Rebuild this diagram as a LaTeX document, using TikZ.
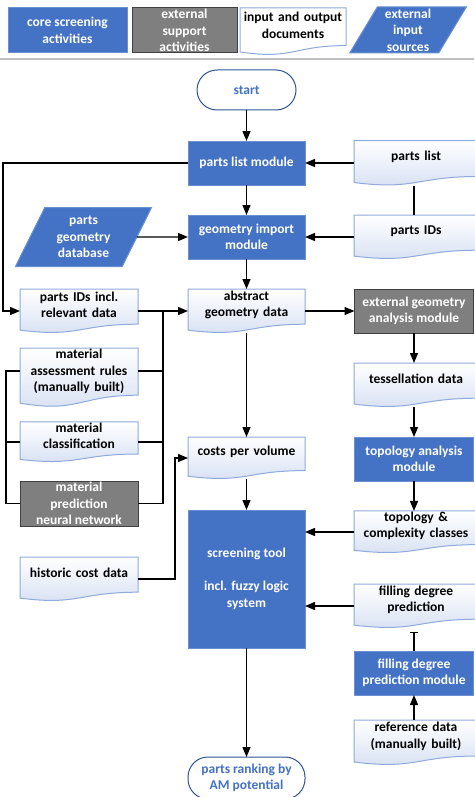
\documentclass[tikz,border=0pt]{standalone}
\usepackage{fontspec}
\setmainfont{Carlito}
\usetikzlibrary{arrows.meta,shapes.geometric,calc,backgrounds}

\definecolor{coreblue}{HTML}{4472C4}
\definecolor{coreline}{HTML}{6A8FD3}
\definecolor{extgray}{HTML}{7F7F7F}
\definecolor{extline}{HTML}{404040}
\definecolor{docline}{HTML}{8FAADC}
\definecolor{docfill}{HTML}{D5DFF2}
\definecolor{termline}{HTML}{2F5597}
\definecolor{sepgray}{HTML}{C0C0C0}

\newcommand\lbl{\fontsize{13.5}{16.5}\selectfont\bfseries}
% document outline with wavy bottom, drawn behind a named node
\newcommand\docshape[2][top color=white,bottom color=docfill]{%
  \draw[line width=1pt, draw=docline, #1]
    (#2.north west) -- (#2.north east)
    -- ($(#2.north east)!0.80!(#2.south east)$)
    .. controls ($(#2.north)!0.80!(#2.south)$) and ($(#2.north)!1.107!(#2.south)$)
    .. ($(#2.north west)!0.934!(#2.south west)$) -- cycle;}

\tikzset{
  box/.style={rectangle, align=center, inner sep=1pt, outer sep=0pt, font=\lbl, line width=1pt},
  core/.style={box, fill=coreblue, draw=coreline, text=white},
  ext/.style={box, fill=extgray, draw=extline, text=white},
  doc/.style={box, text width=#1, inner xsep=0pt, execute at end node={\par\vspace{12pt}\kern0pt}},
  term/.style={box, draw=termline, fill=white, text=coreblue, rounded corners=20pt},
  src/.style={box, trapezium, trapezium left angle=63, trapezium right angle=117, trapezium stretches=true, fill=coreblue, draw=coreline, text=white},
  flow/.style={line width=1.3pt, -{Triangle[length=10pt,width=8pt]}},
  link/.style={line width=1.3pt},
}

\begin{document}
\begin{tikzpicture}[x=1pt,y=1pt,yscale=-1]
\useasboundingbox (0,0) rectangle (474,797);
\begin{scope}[on background layer]
  \fill[white] (0,0) rectangle (474,797);
\end{scope}

% legend
\node[core, minimum width=119pt, minimum height=45pt] (keycore) at (67.5,30.5) {core screening\\activities};
\node[ext, minimum width=105pt, minimum height=45pt, inner ysep=0pt] (keyext) at (184.5,30.5) {external\\support\\activities};
\node[doc=106pt, minimum height=47pt] (keydoc) at (293,31.5) {input and output\\documents};
\node[src, minimum width=117pt, minimum height=46pt, inner ysep=0pt] (keysrc) at (408,30) {external\\input\\sources};
\draw[sepgray, line width=1.2pt] (0,59) -- (474,59);

% middle column
\node[term, minimum width=99pt, minimum height=40pt] (start) at (246.5,90) {start};
\node[core, minimum width=117pt, minimum height=44pt] (plmod) at (246.5,163) {parts list module};
\node[core, minimum width=117pt, minimum height=44pt] (gimod) at (246.5,237) {geometry import\\module};
\node[doc=117pt, minimum height=44pt] (abs) at (246.5,311) {abstract\\geometry data};
\node[doc=117pt, minimum height=42pt] (cost) at (246.5,458) {costs per volume};
\node[core, minimum width=117pt, minimum height=138pt] (screen) at (246.5,579) {screening tool\\[16.5pt]incl. fuzzy logic\\system};
\node[term, minimum width=117pt, minimum height=42pt] (rank) at (246.5,778) {parts ranking by\\AM potential};

% left column
\node[src, minimum width=137pt, minimum height=59pt, inner ysep=0pt] (db) at (83.5,237) {parts\\geometry\\database};
\node[doc=118pt, minimum height=44pt] (pidsi) at (79,311) {parts IDs incl.\\relevant data};
\node[doc=118pt, minimum height=59pt] (matrules) at (79,377.5) {material\\assessment rules\\(manually built)};
\node[doc=118pt, minimum height=40pt] (matclass) at (79,442) {material\\classification};
\node[ext, minimum width=118pt, minimum height=45pt, inner ysep=0pt] (nnet) at (79,503.5) {material\\prediction\\neural network};
\node[doc=118pt, minimum height=44pt] (hist) at (79,579) {historic cost data};

% right column
\node[doc=124pt, minimum height=45pt] (plist) at (416,163) {parts list};
\node[doc=124pt, minimum height=44pt] (pids) at (416,237) {parts IDs};
\node[ext, minimum width=119pt, minimum height=44pt] (ext) at (414,311) {external geometry\\analysis module};
\node[doc=124pt, minimum height=44pt] (tess) at (416,385) {tessellation data};
\node[core, minimum width=119pt, minimum height=44pt] (topo) at (414,459) {topology analysis\\module};
\node[doc=124pt, minimum height=42pt] (topoc) at (416,532) {topology \&\\complexity classes};
\node[doc=124pt, minimum height=44pt] (fpred) at (416,606) {filling degree\\prediction};
\node[core, minimum width=119pt, minimum height=44pt] (fmod) at (414,673) {filling degree\\prediction module};
\node[doc=124pt, minimum height=45pt] (ref) at (416,742.5) {reference data\\(manually built)};

% document outlines
\begin{scope}[on background layer]
  \docshape[fill=white]{keydoc}
  \foreach \d in {abs,cost,pidsi,matrules,matclass,hist,plist,pids,tess,topoc,fpred,ref}{\docshape{\d}}
\end{scope}

% main flow
\draw[flow] (start) -- (plmod);
\draw[flow] (plmod) -- (gimod);
\draw[flow] (gimod) -- (abs);
\draw[flow] (abs) -- (cost);
\draw[flow] (cost) -- (screen);
\draw[flow] (screen) -- (rank);

% inputs from the right
\draw[flow] (plist.west) -- (plmod.east);
\draw[flow] (pids.west) -- (gimod.east);
\draw[link] (plist.south -| ext.south) -- (pids.north -| ext.south);
\draw[flow] (db.east) -- (gimod.west);

% parts data and material bus
\coordinate (lbus) at (6,0);
\coordinate (rbus) at (163,0);
\coordinate (mrL) at ($(matrules.west)+(0,-6.5)$);
\coordinate (mrR) at ($(matrules.east)+(0,-6.5)$);
\draw[flow] (plmod.west) -| ([xshift=-17pt]pidsi.west) -- (pidsi.west);
\draw[flow] (pidsi.east) -- (abs.west);
\draw[link] (nnet.east) -| (rbus |- pidsi.east);
\draw[link] (mrR) -- (mrR -| rbus);
\draw[link] (matclass.east) -- (matclass.east -| rbus);
\draw[link] (mrL) -| (lbus |- nnet.west) -- (nnet.west);
\draw[link] (matclass.west) -- (matclass.west -| lbus);
\draw[flow] (hist.east) -| ([xshift=-13pt]cost.west) -- (cost.west);

% geometry analysis chain
\draw[flow] (abs.east) -- (ext.west);
\draw[flow] (ext.south) -- (tess.north -| ext.south);
\draw[flow] (tess.south -| topo.north) -- (topo.north);
\draw[flow] (topo.south) -- (topoc.north -| topo.south);
\draw[flow] (topoc.west) -- (topoc.west -| screen.east);
\draw[flow] (fpred.west) -- (fpred.west -| screen.east);
\draw[link, -{Bar[width=8pt]}, shorten >=4pt] (fmod.north) -- (fpred.south -| fmod.north);
\draw[flow] (ref.north -| fmod.south) -- (fmod.south);

\end{tikzpicture}
\end{document}
